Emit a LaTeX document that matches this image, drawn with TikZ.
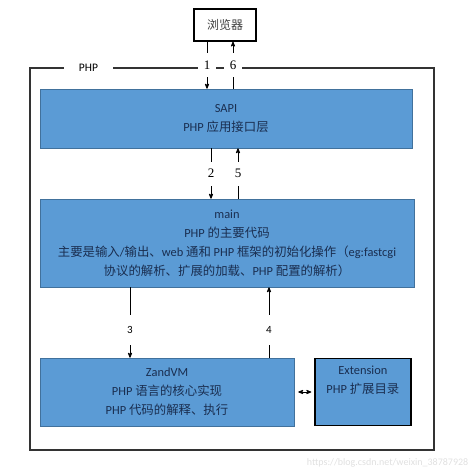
\documentclass[tikz,border=0pt]{standalone}
\usepackage{fontspec}
\setmainfont{Carlito}
\newfontfamily\cjk{Noto Sans CJK SC}
\newfontfamily\numfont{Liberation Serif}
\usetikzlibrary{arrows,positioning}

\definecolor{bluefill}{HTML}{5B9BD5}
\definecolor{blueline}{HTML}{41719C}
\definecolor{navy}{HTML}{1A2E50}
\definecolor{framegray}{HTML}{333333}

\begin{document}
\begin{tikzpicture}[x=1pt, y=-1pt, >=stealth', line width=0.8pt,
    font=\fontsize{12.4}{19}\selectfont,
    blk/.style={draw=blueline, line width=0.6pt, fill=bluefill, text=navy, align=center, inner sep=0pt},
    num/.style={fill=white, inner sep=0pt, minimum width=18pt, minimum height=24pt, font=\numfont\fontsize{13}{13}\selectfont},
    numsf/.style={num, minimum height=30pt, font=\fontsize{11}{11}\selectfont}]
    \useasboundingbox (0,0) rectangle (474,474);

    % Frame {php} and browser
    \node [draw=framegray, line width=1.2pt, minimum width=404pt, minimum height=382pt, inner sep=0pt] (php) at (232,259) {};
    \node [fill=white, minimum width=49pt, inner sep=0pt, font=\fontsize{11.5}{11.5}\selectfont] (phplabel) at (88.5,68) {PHP};
    \node [draw, line width=1.2pt, fill=white, minimum width=62pt, minimum height=32pt, text=black!75,
           font=\cjk\fontsize{12}{12}\selectfont] (browser) at (225,25) {浏览器};

    % Boxes {sapi, main, zend, ext}
    \node [blk, minimum width=372pt, minimum height=59pt] (sapi) at (226,118.5)
        {SAPI\\PHP {\cjk 应用接口层}};
    \node [blk, minimum width=374pt, minimum height=88pt] (main) at (227,243)
        {main\\PHP {\cjk 的主要代码}\\{\cjk 主要是输入}/{\cjk 输出、}web {\cjk 通和} PHP {\cjk 框架的初始化操作（}eg:fastcgi\\{\cjk 协议的解析、扩展的加载、}PHP {\cjk 配置的解析）}};
    \node [blk, minimum width=254pt, minimum height=68pt] (zend) at (167,392)
        {ZandVM\\PHP {\cjk 语言的核心实现}\\PHP {\cjk 代码的解释、执行}};
    \node [blk, draw=black, line width=1.2pt, minimum width=96pt, minimum height=67pt, right=20pt of zend] (ext)
        {Extension\\PHP {\cjk 扩展目录}\\\strut};

    % Paths
    \draw [->] ([xshift=-18pt]browser.south) -- node[num] {1} ([xshift=-18pt]browser.south |- sapi.north);
    \draw [->] ([xshift=8pt]browser.south |- sapi.north) -- node[num] {6} ([xshift=8pt]browser.south);
    \draw [->] ([xshift=-15pt]sapi.south) -- node[num] {2} ([xshift=-15pt]sapi.south |- main.north);
    \draw [->] ([xshift=12pt]sapi.south |- main.north) -- node[num] {5} ([xshift=12pt]sapi.south);
    \draw [->] ([xshift=-37pt]zend.north |- main.south) -- node[numsf, pos=0.6] {3} ([xshift=-37pt]zend.north);
    \draw [->] ([xshift=102pt]zend.north) -- node[numsf, pos=0.4] {4} ([xshift=102pt]zend.north |- main.south);
    \draw [<->, shorten <=4pt, shorten >=3pt] (zend.east) -- (zend.east -| ext.west);

    \node [text=black!12, anchor=east, font=\fontsize{10}{10}\selectfont] (mark) at (472,463) {https://blog.csdn.net/weixin\_38787928};
\end{tikzpicture}
\end{document}
